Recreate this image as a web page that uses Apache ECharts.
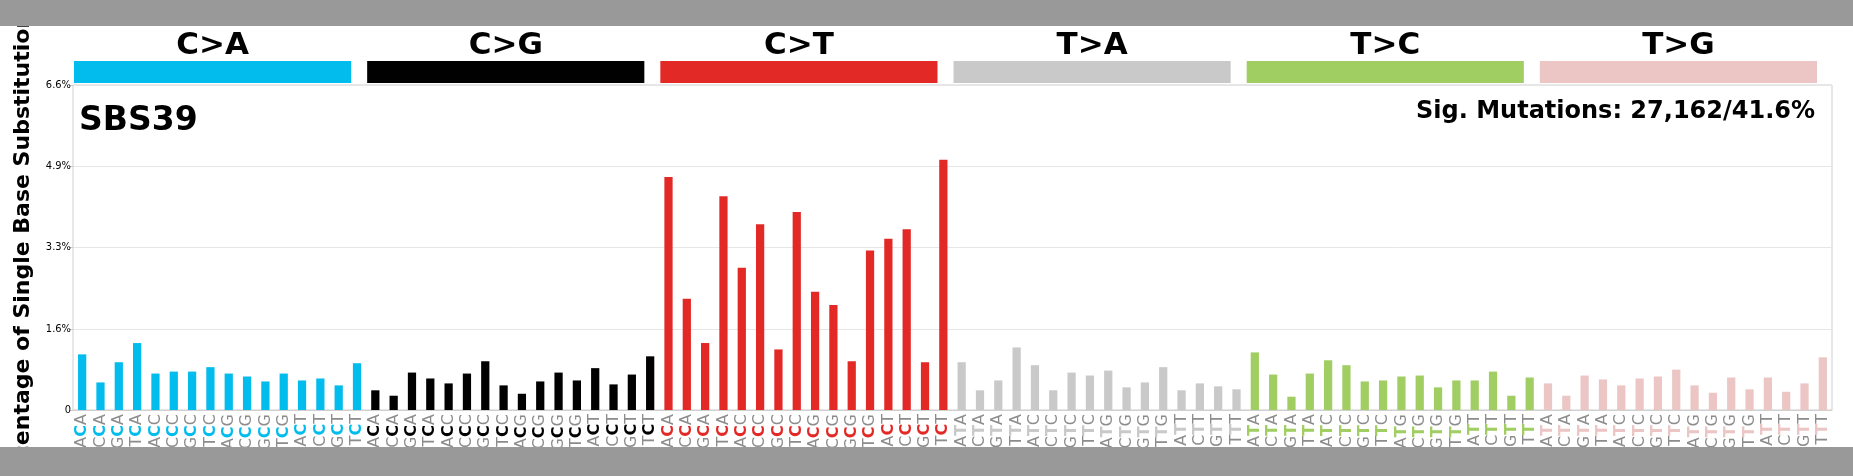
<!DOCTYPE html>
<html><head><meta charset="utf-8">
<script src="https://cdn.jsdelivr.net/npm/echarts@6/dist/echarts.min.js"></script>
<style>html,body{margin:0;padding:0;background:#fff}#c{width:1853px;height:476px}</style>
</head><body><div id="c"></div>
<script>
const mutationTypes = ['C>A','C>G','C>T','T>A','T>C','T>G'];
const typeColors = ['#03BCEE','#010101','#E32926','#CAC9C9','#A1CE63','#EBC6C4'];
const bases = ['A','C','G','T'];
const valsCA = [1.13,0.56,0.97,1.36,0.74,0.78,0.78,0.87,0.74,0.68,0.58,0.74,0.60,0.64,0.50,0.95];
const valsCG = [0.40,0.29,0.76,0.64,0.54,0.74,0.99,0.50,0.33,0.58,0.76,0.60,0.85,0.52,0.72,1.09];
const valsCT = [4.73,2.26,1.36,4.34,2.89,3.77,1.23,4.02,2.40,2.13,0.99,3.24,3.48,3.67,0.97,5.08];
const valsTA = [0.97,0.40,0.60,1.27,0.91,0.40,0.76,0.70,0.80,0.46,0.56,0.87,0.40,0.54,0.48,0.42];
const valsTC = [1.17,0.72,0.27,0.74,1.01,0.91,0.58,0.60,0.68,0.70,0.46,0.60,0.60,0.78,0.29,0.66];
const valsTG = [0.54,0.29,0.70,0.62,0.50,0.64,0.68,0.82,0.50,0.35,0.66,0.42,0.66,0.37,0.54,1.07];
const yTickLabels = ['0','1.6%','3.3%','4.9%','6.6%'];
const signatureName = 'SBS39';
const sigText = 'Sig. Mutations: 27,162/41.6%';
const yAxisTitle = 'Percentage of Single Base Substitutions';

const allVals = [valsCA,valsCG,valsCT,valsTA,valsTC,valsTG];
const categories = [], data = [];
mutationTypes.forEach((m,mi)=>{
  bases.forEach(b3=>{ bases.forEach(b5=>{
    const idx = categories.length;
    categories.push(b5+m[0]+b3+'|'+mi);
    data.push({value: allVals[mi][idx%16], itemStyle:{color:typeColors[mi]}});
  });});
});
const rich = {g:{color:'#8c8c8c',fontSize:16,fontFamily:'DejaVu Sans'}};
typeColors.forEach((c,i)=>{rich['m'+i]={color:c,fontSize:16,fontWeight:'bold',fontFamily:'DejaVu Sans'};});

const chart = echarts.init(document.getElementById('c'));
const grid = {left:73,right:21,top:85,bottom:66};
chart.setOption({
  animation:false,
  grid:Object.assign({show:true,borderColor:'#cfcfcf',borderWidth:1},grid),
  xAxis:{type:'category',data:categories,
    axisLine:{lineStyle:{color:'#cfcfcf'}},axisTick:{show:false},
    axisLabel:{interval:0,rotate:90,margin:4,
      formatter:v=>{const [s,mi]=v.split('|');return '{g|'+s[0]+'}{m'+mi+'|'+s[1]+'}{g|'+s[2]+'}';},rich}},
  yAxis:{type:'value',min:0,max:6.6,interval:1.65,
    axisLine:{show:false},axisTick:{show:true,length:4,lineStyle:{color:'#ccc'}},
    splitLine:{lineStyle:{color:'#e6e6e6'}},
    axisLabel:{fontSize:11,color:'#000',fontFamily:'DejaVu Sans Condensed',margin:2,
      formatter:(v)=>yTickLabels[Math.round(v/1.65)]}},
  series:[{type:'bar',data,barCategoryGap:'55%'}]
});
const g = [];
for(let i=0;i<6;i++){
  const x0 = chart.convertToPixel({xAxisIndex:0},categories[i*16]);
  const x1 = chart.convertToPixel({xAxisIndex:0},categories[i*16+15]);
  const step = (x1-x0)/15;
  const l = x0-step*0.5+1, r = x1+step*0.5-15;
  g.push({type:'rect',shape:{x:l,y:61,width:r-l,height:22},style:{fill:typeColors[i]}});
  g.push({type:'text',x:(l+r)/2,y:46,style:{text:mutationTypes[i],fill:'#000',font:'bold 31px "DejaVu Sans"',align:'center',verticalAlign:'middle'}});
}
g.push({type:'text',x:79,y:121,style:{text:signatureName,fill:'#000',font:'bold 33px "DejaVu Sans"',align:'left',verticalAlign:'middle'}});
g.push({type:'text',x:1815,y:112,style:{text:sigText,fill:'#000',font:'bold 24px "DejaVu Sans"',align:'right',verticalAlign:'middle'}});
g.push({type:'text',x:23,y:250,rotation:Math.PI/2,style:{text:yAxisTitle,fill:'#000',font:'bold 22px "DejaVu Sans"',align:'center',verticalAlign:'middle'}});
g.push({type:'rect',z:100,shape:{x:0,y:0,width:1853,height:26},style:{fill:'#999999'}});
g.push({type:'rect',z:100,shape:{x:0,y:447,width:1853,height:29},style:{fill:'#999999'}});
chart.setOption({graphic:g});
</script></body></html>
